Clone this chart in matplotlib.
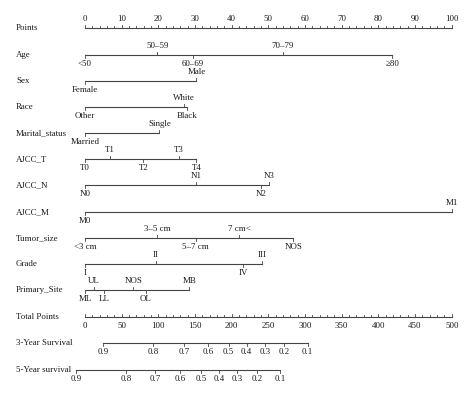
import numpy as np
import matplotlib.pyplot as plt

# данные номограммы (баллы)
point_ticks = np.arange(0, 101, 10)
total_ticks = np.arange(0, 501, 50)

variables = ['Age', 'Sex', 'Race', 'Marital_status', 'AJCC_T', 'AJCC_N',
             'AJCC_M', 'Tumor_size', 'Grade', 'Primary_Site']
age_levels = ['<50', '50–59', '60–69', '70–79', '≥80']
age_pts = [0, 19.7, 29.5, 54, 83.8]
sex_levels = ['Female', 'Male']
sex_pts = [0, 30.4]
race_levels = ['Other', 'White', 'Black']
race_pts = [0, 27.1, 27.8]
marital_levels = ['Married', 'Single']
marital_pts = [0, 20.3]
t_levels = ['T0', 'T1', 'T2', 'T3', 'T4']
t_pts = [0, 6.9, 15.9, 25.6, 30.4]
n_levels = ['N0', 'N1', 'N2', 'N3']
n_pts = [0, 30.4, 48.0, 50.2]
m_levels = ['M0', 'M1']
m_pts = [0, 100]
size_levels = ['<3 cm', '3–5 cm', '5–7 cm', '7 cm<', 'NOS']
size_pts = [0, 19.7, 30.2, 42, 56.8]
grade_levels = ['I', 'II', 'IV', 'III']
grade_pts = [0, 19.3, 43.1, 48.4]
site_levels = ['ML', 'UL', 'LL', 'NOS', 'OL', 'MB']
site_pts = [0, 2.5, 5.3, 13.2, 16.6, 28.4]

surv_labels = ['0.9', '0.8', '0.7', '0.6', '0.5', '0.4', '0.3', '0.2', '0.1']
surv3_total = [25, 93.2, 135.4, 167.7, 195.9, 220.5, 245.5, 271.8, 303.6]
surv5_total = [-12, 55.9, 95.5, 130, 158.2, 183.2, 207.7, 234.1, 265.9]

levels = [age_levels, sex_levels, race_levels, marital_levels, t_levels,
          n_levels, m_levels, size_levels, grade_levels, site_levels]
pts = [age_pts, sex_pts, race_pts, marital_pts, t_pts, n_pts, m_pts,
       size_pts, grade_pts, site_pts]

# вертикальные позиции строк (в пикселях сверху)
rows = [28, 55, 81, 107, 133, 159, 185, 212, 238, 264, 290, 317, 343, 370]

plt.rcParams['font.family'] = ['Liberation Serif', 'DejaVu Serif']
fs = 6.4
lc = '#444444'
tc = '#1a1a1a'

fig = plt.figure(figsize=(4.74, 3.98), dpi=100)
ax = fig.add_axes([0, 0, 1, 1])
px = 366.7 / 100  # пикселей на балл
ax.set_xlim(-85 / px, (474 - 85) / px)
ax.set_ylim(398, 0)
ax.axis('off')

name_x = 16 / px - 85 / px
off = 9


def row_name(y, text):
    ax.text(name_x, y, text, fontsize=fs, color=tc, ha='left', va='center')


# Points
y = rows[0]
row_name(y, 'Points')
ax.plot([0, 100], [y, y], color=lc, lw=0.8)
for v in np.arange(0, 101, 2):
    h = 3 if v % 10 == 0 else 2
    ax.plot([v, v], [y, y - h], color=lc, lw=0.6)
for v in point_ticks:
    ax.text(v, y - off, str(v), fontsize=fs, color=tc, ha='center', va='center')

# переменные
for i, (name, lv, pp) in enumerate(zip(variables, levels, pts)):
    y = rows[i + 1]
    row_name(y, name)
    ax.plot([min(pp), max(pp)], [y, y], color=lc, lw=0.8)
    for j, (lab, v) in enumerate(zip(lv, pp)):
        d = 1 if j % 2 == 0 else -1  # ниже / выше линии
        ax.plot([v, v], [y, y + 3 * d], color=lc, lw=0.6)
        ax.text(v, y + off * d, lab, fontsize=fs, color=tc, ha='center', va='center')

# Total Points
y = rows[11]
row_name(y, 'Total Points')
ax.plot([0, 100], [y, y], color=lc, lw=0.8)
for v in np.arange(0, 501, 10):
    h = 3 if v % 50 == 0 else 2
    ax.plot([v / 5, v / 5], [y, y - h], color=lc, lw=0.6)
for v in total_ticks:
    ax.text(v / 5, y + off, str(v), fontsize=fs, color=tc, ha='center', va='center')

# выживаемость
for y, name, tot in [(rows[12], '3-Year Survival', surv3_total),
                     (rows[13], '5-Year survival', surv5_total)]:
    row_name(y, name)
    xs = np.array(tot) / 5
    ax.plot([xs.min(), xs.max()], [y, y], color=lc, lw=0.8)
    for v, lab in zip(xs, surv_labels):
        ax.plot([v, v], [y, y + 3], color=lc, lw=0.6)
        ax.text(v, y + off, lab, fontsize=fs, color=tc, ha='center', va='center')

fig.savefig('out.png', dpi=100)
